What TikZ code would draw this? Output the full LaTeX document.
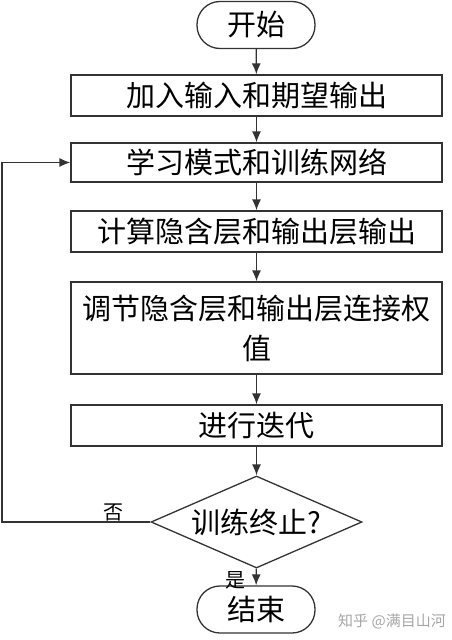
\documentclass[tikz,border=0pt]{standalone}
\usepackage{fontspec}
\setmainfont{Noto Sans CJK SC}
\usetikzlibrary{arrows.meta,shapes.geometric}
\begin{document}
\begin{tikzpicture}[x=1pt,y=-1pt,
  line width=1.3pt,
  every node/.style={draw=black!80,inner sep=0pt,font=\fontsize{29}{40}\selectfont},
  procbox/.style={rectangle,minimum width=371pt},
  termbox/.style={rectangle,rounded corners=23pt,minimum width=118pt,minimum height=47pt},
  decbox/.style={diamond,aspect=2.29,minimum width=211pt,minimum height=92pt},
  lbl/.style={draw=none,font=\fontsize{20}{24}\selectfont},
  arr/.style={draw=black!80,-{Latex[length=11pt,width=9pt]}}]
\useasboundingbox (0,0) rectangle (451,640);
\node[termbox] (start) at (256,25) {开始};
\node[procbox,minimum height=41pt] (b1) at (256.5,95.5) {加入输入和期望输出};
\node[procbox,minimum height=39pt] (b2) at (256.5,162.5) {学习模式和训练网络};
\node[procbox,minimum height=41pt] (b3) at (256.5,231.5) {计算隐含层和输出层输出};
\node[procbox,minimum height=92pt,align=center] (b4) at (256.5,328) {调节隐含层和输出层连接权\\值};
\node[procbox,minimum height=41pt] (b5) at (256.5,425.5) {进行迭代};
\node[decbox] (dec) at (256.5,522) {训练终止?};
\node[termbox] (stop) at (256,609.5) {结束};
\coordinate (lp) at (2,522);
\draw[arr] (start) -- (b1);
\draw[arr] (b1) -- (b2);
\draw[arr] (b2) -- (b3);
\draw[arr] (b3) -- (b4);
\draw[arr] (b4) -- (b5);
\draw[arr] (b5) -- (dec);
\draw[arr] (dec) -- (stop);
\draw[arr] (dec.west) -- (lp) |- (b2.west);
\node[lbl] (no) at (113,512) {否};
\node[lbl] (yes) at (235,580) {是};
\node[draw=none,text=black!35,font=\fontsize{15}{18}\selectfont] (wm) at (392,621) {知乎 @满目山河};
\end{tikzpicture}
\end{document}
